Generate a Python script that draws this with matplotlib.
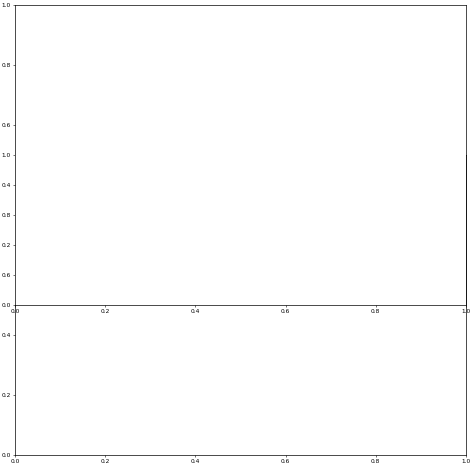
import matplotlib
matplotlib.use("Agg")
from matplotlib import pyplot as plt

# tick values shared by both (empty) axes
ticks = [0.0, 0.2, 0.4, 0.6, 0.8, 1.0]
tick_labels = ["0.0", "0.2", "0.4", "0.6", "0.8", "1.0"]

W, H = 474, 468
fig = plt.figure(figsize=(W / 100, H / 100), dpi=100)

left = 15 / W
width = 451 / W
height = 300 / H

# lower axes first, so the upper one is painted over it
ax_low = fig.add_axes([left, (H - 455) / H, width, height])
ax_top = fig.add_axes([left, (H - 305) / H, width, height])

for ax in (ax_low, ax_top):
    ax.set_xlim(0, 1)
    ax.set_ylim(0, 1)
    ax.set_xticks(ticks, tick_labels)
    ax.set_yticks(ticks, tick_labels)
    ax.tick_params(labelsize=4.2, length=1.6, width=0.4, pad=1.2)
    for s in ax.spines.values():
        s.set_linewidth(0.5)

fig.savefig("out.png", dpi=100)
